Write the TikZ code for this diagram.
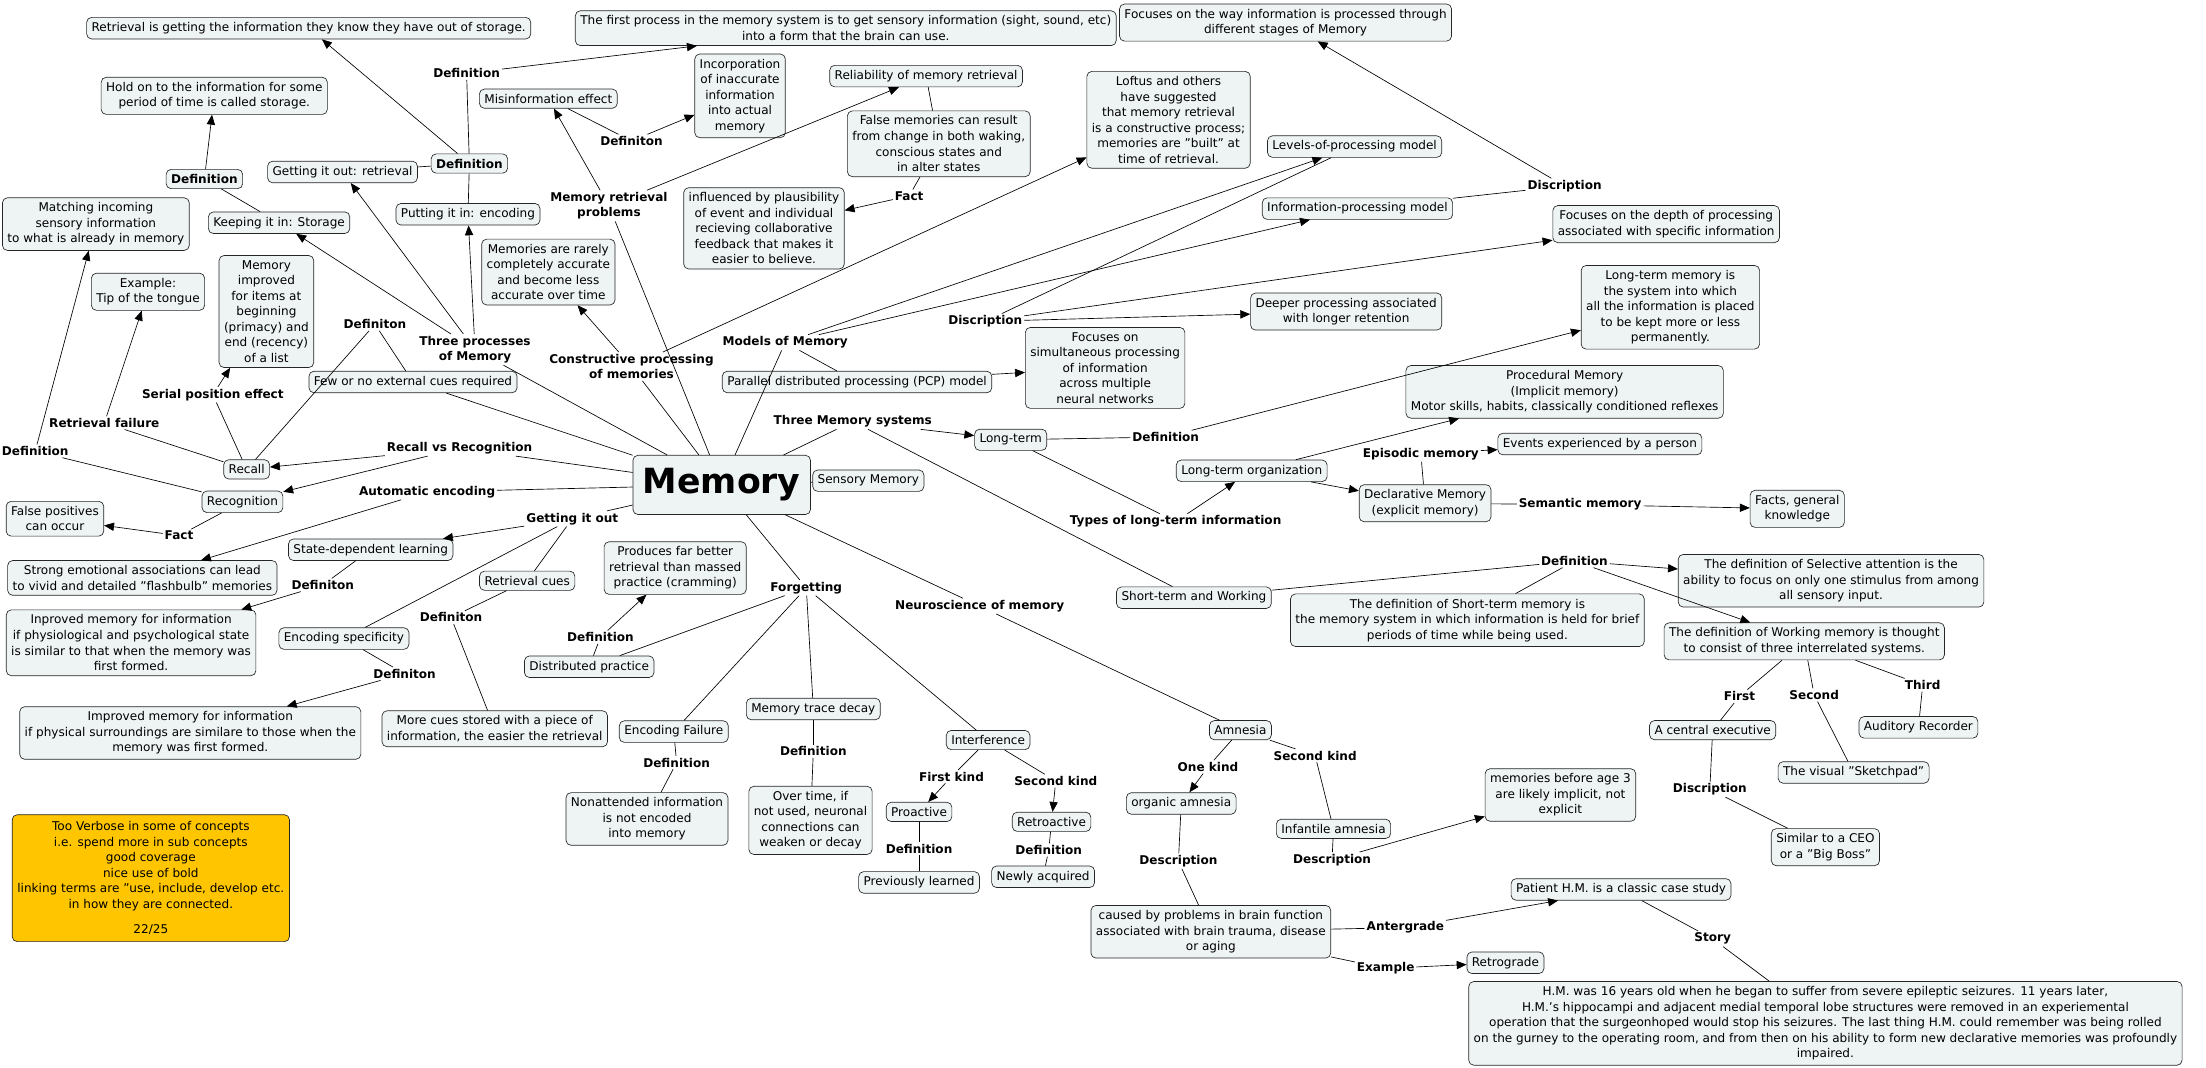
\documentclass[tikz,border=0pt]{standalone}
\usepackage{fontspec}
\setmainfont{DejaVu Sans}
\usetikzlibrary{arrows.meta}
\definecolor{boxfill}{HTML}{EEF3F4}
\definecolor{notefill}{HTML}{FFC600}
\begin{document}
\begin{tikzpicture}[x=0.03cm,y=-0.03cm,
  every node/.style={font=\fontsize{7.3}{9.4}\selectfont,align=center},
  box/.style={draw=black!85,fill=boxfill,rounded corners=3pt,inner sep=3pt},
  bbox/.style={box,font=\fontsize{7.3}{9.4}\selectfont\bfseries},
  lab/.style={font=\fontsize{7.3}{9.4}\selectfont\bfseries,inner sep=1pt},
  ar/.style={-{Triangle[length=6pt,width=5pt]},black},
  ln/.style={black}]
\useasboundingbox (0,0) rectangle (1565,757);
% boxes
\node[box] (r1) at (219,20) {Retrieval is getting the information they know they have out of storage.};
\node[box] (r2) at (600,20) {The first process in the memory system is to get sensory information (sight, sound, etc)\\into a form that the brain can use.};
\node[box] (r3) at (912,16) {Focuses on the way information is processed through\\different stages of Memory};
\node[box] (holdon) at (152,68) {Hold on to the information for some\\period of time is called storage.};
\node[box] (incorp) at (525,68) {Incorporation\\of inaccurate\\information\\into actual\\memory};
\node[box] (reliab) at (657,54) {Reliability of memory retrieval};
\node[box] (loftus) at (829,85) {Loftus and others\\have suggested\\that memory retrieval\\is a constructive process;\\memories are "built" at\\time of retrieval.};
\node[box] (levels) at (961,104) {Levels-of-processing model};
\node[box] (misinfo) at (389,70) {Misinformation effect};
\node[box] (falsemem) at (666,102) {False memories can result\\from change in both waking,\\conscious states and\\in alter states};
\node[box] (getout) at (243,122) {Getting it out: retrieval};
\node[box] (putin) at (332,152) {Putting it in: encoding};
\node[box] (keepin) at (198,158) {Keeping it in: Storage};
\node[box] (matching) at (68,159) {Matching incoming\\sensory information\\to what is already in memory};
\node[box] (influenced) at (542,162) {influenced by plausibility\\of event and individual\\recieving collaborative\\feedback that makes it\\easier to believe.};
\node[box] (infoproc) at (963,148) {Information-processing model};
\node[box] (focdepth) at (1182,159) {Focuses on the depth of processing\\associated with specific information};
\node[box] (example) at (105,207) {Example:\\Tip of the tongue};
\node[box] (memimp) at (189,221) {Memory\\improved\\for items at\\beginning\\(primacy) and\\end (recency)\\of a list};
\node[box] (rarely) at (389,193) {Memories are rarely\\completely accurate\\and become less\\accurate over time};
\node[box] (ltdef) at (1185,218) {Long-term memory is\\the system into which\\all the information is placed\\to be kept more or less\\permanently.};
\node[box] (deeper) at (955,221) {Deeper processing associated\\with longer retention};
\node[box] (fewcues) at (293,271) {Few or no external cues required};
\node[box] (focsim) at (784,261) {Focuses on\\simultaneous processing\\of information\\across multiple\\neural networks};
\node[box] (pdp) at (608,271) {Parallel distributed processing (PCP) model};
\node[box] (procedural) at (1110,278) {Procedural Memory\\(Implicit memory)\\Motor skills, habits, classically conditioned reflexes};
\node[box] (longterm) at (717,312) {Long-term};
\node[box] (events) at (1135,315) {Events experienced by a person};
\node[box] (recall) at (175,333) {Recall};
\node[box,font=\fontsize{21}{25}\selectfont\bfseries,inner xsep=6pt,inner ysep=8pt] (memory) at (512,344) {Memory};
\node[box] (sensory) at (616,341) {Sensory Memory};
\node[box] (ltorg) at (888,334) {Long-term organization};
\node[box] (declar) at (1011,357) {Declarative Memory\\(explicit memory)};
\node[box] (facts) at (1275,361) {Facts, general\\knowledge};
\node[box] (recog) at (172,356) {Recognition};
\node[box] (falsepos) at (39,368) {False positives\\can occur};
\node[box] (statedep) at (263,390) {State-dependent learning};
\node[box] (strong) at (101,410) {Strong emotional associations can lead\\to vivid and detailed "flashbulb" memories};
\node[box] (produces) at (479,403) {Produces far better\\retrieval than massed\\practice (cramming)};
\node[box] (retcues) at (374,412) {Retrieval cues};
\node[box] (selattn) at (1299,412) {The definition of Selective attention is the\\ability to focus on only one stimulus from among\\all sensory input.};
\node[box] (stw) at (847,424) {Short-term and Working};
\node[box] (stdef) at (1041,440) {The definition of Short-term memory is\\the memory system in which information is held for brief\\periods of time while being used.};
\node[box] (imp1) at (93,456) {Inproved memory for information\\if physiological and psychological state\\is similar to that when the memory was\\first formed.};
\node[box] (encspec) at (244,453) {Encoding specificity};
\node[box] (distrib) at (418,473) {Distributed practice};
\node[box] (wmdef) at (1280,455) {The definition of Working memory is thought\\to consist of three interrelated systems.};
\node[box] (memtrace) at (577,503) {Memory trace decay};
\node[box] (imp2) at (135,520) {Improved memory for information\\if physical surroundings are similare to those when the\\memory was first formed.};
\node[box] (morecues) at (351,517) {More cues stored with a piece of\\information, the easier the retrieval};
\node[box] (encfail) at (478,519) {Encoding Failure};
\node[box] (interf) at (701,525) {Interference};
\node[box] (amnesia) at (880,518) {Amnesia};
\node[box] (central) at (1215,518) {A central executive};
\node[box] (auditory) at (1361,516) {Auditory Recorder};
\node[box] (sketch) at (1315,548) {The visual "Sketchpad"};
\node[box] (mem3) at (1107,564) {memories before age 3\\are likely implicit, not\\explicit};
\node[box] (organic) at (838,570) {organic amnesia};
\node[box] (overtime) at (575,582) {Over time, if\\not used, neuronal\\connections can\\weaken or decay};
\node[box] (nonatt) at (459,581) {Nonattended information\\is not encoded\\into memory};
\node[box] (proactive) at (652,576) {Proactive};
\node[box] (retroactive) at (746,583) {Retroactive};
\node[box] (infantile) at (946,588) {Infantile amnesia};
\node[box] (ceo) at (1295,601) {Similar to a CEO\\or a "Big Boss"};
\node[box] (prevl) at (652,626) {Previously learned};
\node[box] (newly) at (740,622) {Newly acquired};
\node[box] (patient) at (1150,631) {Patient H.M. is a classic case study};
\node[box] (caused) at (859,661) {caused by problems in brain function\\associated with brain trauma, disease\\or aging};
\node[box] (retrograde) at (1068,683) {Retrograde};
\node[box] (hm) at (1295,726) {H.M. was 16 years old when he began to suffer from severe epileptic seizures. 11 years later,\\H.M.'s hippocampi and adjacent medial temporal lobe structures were removed in an experiemental\\operation that the surgeonhoped would stop his seizures. The last thing H.M. could remember was being rolled\\on the gurney to the operating room, and from then on his ability to form new declarative memories was profoundly\\impaired.};
\node[box,fill=notefill,minimum width=5.9cm,minimum height=2.7cm] (note) at (107,623) {Too Verbose in some of concepts\\i.e. spend more in sub concepts\\good coverage\\nice use of bold\\linking terms are "use, include, develop etc.\\in how they are connected.\\[6pt]22/25};
\node[bbox] (defb1) at (145,127) {Definition};
\node[bbox] (defb2) at (333,116) {Definition};
% labels
\node[lab] (l1) at (331,52) {Definition};
\node[lab] (l2) at (448,100) {Definiton};
\node[lab] (mrp) at (432,146) {Memory retrieval\\problems};
\node[lab] (fact1) at (645,139) {Fact};
\node[lab] (disc1) at (1110,132) {Discription};
\node[lab] (def3) at (266,230) {Definiton};
\node[lab] (threeproc) at (337,248) {Three processes\\of Memory};
\node[lab] (constr) at (448,260) {Constructive processing\\of memories};
\node[lab] (models) at (557,243) {Models of Memory};
\node[lab] (disc2) at (699,228) {Discription};
\node[lab] (serial) at (151,280) {Serial position effect};
\node[lab] (retfail) at (74,300) {Retrieval failure};
\node[lab] (def4) at (25,320) {Definition};
\node[lab] (rvr) at (326,318) {Recall vs Recognition};
\node[lab] (tms) at (605,299) {Three Memory systems};
\node[lab] (def5) at (827,310) {Definition};
\node[lab] (episodic) at (1008,322) {Episodic memory};
\node[lab] (autoenc) at (303,349) {Automatic encoding};
\node[lab] (gio) at (406,368) {Getting it out};
\node[lab] (types) at (834,370) {Types of long-term information};
\node[lab] (semantic) at (1121,358) {Semantic memory};
\node[lab] (fact2) at (127,380) {Fact};
\node[lab] (def6) at (229,415) {Definiton};
\node[lab] (def7) at (320,438) {Definiton};
\node[lab] (forget) at (572,417) {Forgetting};
\node[lab] (neuro) at (695,430) {Neuroscience of memory};
\node[lab] (def8) at (1117,398) {Definition};
\node[lab] (def9) at (426,452) {Definition};
\node[lab] (def10) at (287,478) {Definiton};
\node[lab] (first) at (1234,494) {First};
\node[lab] (second) at (1287,493) {Second};
\node[lab] (third) at (1364,486) {Third};
\node[lab] (def11) at (577,533) {Definition};
\node[lab] (def12) at (480,541) {Definition};
\node[lab] (fk) at (675,551) {First kind};
\node[lab] (sk) at (749,554) {Second kind};
\node[lab] (onek) at (857,544) {One kind};
\node[lab] (sk2) at (933,536) {Second kind};
\node[lab] (disc3) at (1213,560) {Discription};
\node[lab] (def13) at (652,602) {Definition};
\node[lab] (def14) at (744,603) {Definition};
\node[lab] (desc1) at (836,611) {Description};
\node[lab] (desc2) at (945,610) {Description};
\node[lab] (anter) at (997,658) {Antergrade};
\node[lab] (story) at (1215,666) {Story};
\node[lab] (exlab) at (983,687) {Example};
% connectors
\draw[ln] (memory) -- (threeproc);
\draw[ar] (threeproc) -- (keepin);
\draw[ar] (threeproc) -- (putin);
\draw[ar] (threeproc) -- (getout);
\draw[ln] (getout) -- (defb2);
\draw[ar] (defb2) -- (r1);
\draw[ln] (putin) -- (defb2);
\draw[ln] (defb2) -- (l1);
\draw[ar] (l1) -- (r2);
\draw[ln] (keepin) -- (defb1);
\draw[ar] (defb1) -- (holdon);
\draw[ln] (memory) -- (mrp);
\draw[ar] (mrp) -- (misinfo);
\draw[ln] (misinfo) -- (l2);
\draw[ar] (l2) -- (incorp);
\draw[ar] (mrp) -- (reliab);
\draw[ln] (reliab) -- (falsemem);
\draw[ln] (falsemem) -- (fact1);
\draw[ar] (fact1) -- (influenced);
\draw[ln] (memory) -- (constr);
\draw[ar] (constr) -- (rarely);
\draw[ar] (constr) -- (loftus);
\draw[ln] (memory) -- (models);
\draw[ln] (models) -- (pdp);
\draw[ar] (pdp) -- (focsim);
\draw[ar] (models) -- (infoproc);
\draw[ar] (models) -- (levels);
\draw[ln] (levels) -- (disc2);
\draw[ar] (disc2) -- (deeper);
\draw[ar] (disc2) -- (focdepth);
\draw[ln] (infoproc) -- (disc1);
\draw[ar] (disc1) -- (r3);
\draw[ln] (memory) -- (rvr);
\draw[ar] (rvr) -- (recall);
\draw[ar] (rvr) -- (recog);
\draw[ln] (recall) -- (serial);
\draw[ar] (serial) -- (memimp);
\draw[ln] (recall) -- (retfail);
\draw[ar] (retfail) -- (example);
\draw[ln] (recall) -- (def3);
\draw[ln] (def3) -- (fewcues);
\draw[ln] (fewcues) -- (memory);
\draw[ln] (recog) -- (def4);
\draw[ar] (def4) -- (matching);
\draw[ln] (recog) -- (fact2);
\draw[ar] (fact2) -- (falsepos);
\draw[ln] (memory) -- (autoenc);
\draw[ar] (autoenc) -- (strong);
\draw[ln] (memory) -- (gio);
\draw[ar] (gio) -- (statedep);
\draw[ln] (gio) -- (retcues);
\draw[ln] (gio) -- (encspec);
\draw[ln] (statedep) -- (def6);
\draw[ar] (def6) -- (imp1);
\draw[ln] (encspec) -- (def10);
\draw[ar] (def10) -- (imp2);
\draw[ln] (retcues) -- (def7);
\draw[ln] (def7) -- (morecues);
\draw[ln] (memory) -- (forget);
\draw[ln] (forget) -- (distrib);
\draw[ln] (forget) -- (encfail);
\draw[ln] (forget) -- (memtrace);
\draw[ln] (forget) -- (interf);
\draw[ln] (distrib) -- (def9);
\draw[ar] (def9) -- (produces);
\draw[ln] (encfail) -- (def12);
\draw[ln] (def12) -- (nonatt);
\draw[ln] (memtrace) -- (def11);
\draw[ln] (def11) -- (overtime);
\draw[ln] (interf) -- (fk);
\draw[ar] (fk) -- (proactive);
\draw[ln] (interf) -- (sk);
\draw[ar] (sk) -- (retroactive);
\draw[ln] (proactive) -- (def13);
\draw[ln] (def13) -- (prevl);
\draw[ln] (retroactive) -- (def14);
\draw[ln] (def14) -- (newly);
\draw[ln] (memory) -- (neuro);
\draw[ln] (neuro) -- (amnesia);
\draw[ln] (amnesia) -- (onek);
\draw[ar] (onek) -- (organic);
\draw[ln] (amnesia) -- (sk2);
\draw[ln] (sk2) -- (infantile);
\draw[ln] (organic) -- (desc1);
\draw[ln] (desc1) -- (caused);
\draw[ln] (infantile) -- (desc2);
\draw[ar] (desc2) -- (mem3);
\draw[ln] (caused) -- (anter);
\draw[ar] (anter) -- (patient);
\draw[ln] (caused) -- (exlab);
\draw[ar] (exlab) -- (retrograde);
\draw[ln] (patient) -- (story);
\draw[ln] (story) -- (hm);
\draw[ln] (memory) -- (tms);
\draw[ln] (memory) -- (sensory);
\draw[ar] (tms) -- (longterm);
\draw[ln] (tms) -- (stw);
\draw[ln] (longterm) -- (def5);
\draw[ar] (def5) -- (ltdef);
\draw[ln] (longterm) -- (types);
\draw[ar] (types) -- (ltorg);
\draw[ar] (ltorg) -- (procedural);
\draw[ar] (ltorg) -- (declar);
\draw[ln] (declar) -- (episodic);
\draw[ar] (episodic) -- (events);
\draw[ln] (declar) -- (semantic);
\draw[ar] (semantic) -- (facts);
\draw[ln] (stw) -- (def8);
\draw[ar] (def8) -- (selattn);
\draw[ln] (def8) -- (stdef);
\draw[ar] (def8) -- (wmdef);
\draw[ln] (wmdef) -- (first);
\draw[ln] (first) -- (central);
\draw[ln] (wmdef) -- (second);
\draw[ln] (second) -- (sketch);
\draw[ln] (wmdef) -- (third);
\draw[ln] (third) -- (auditory);
\draw[ln] (central) -- (disc3);
\draw[ln] (disc3) -- (ceo);
\end{tikzpicture}
\end{document}
